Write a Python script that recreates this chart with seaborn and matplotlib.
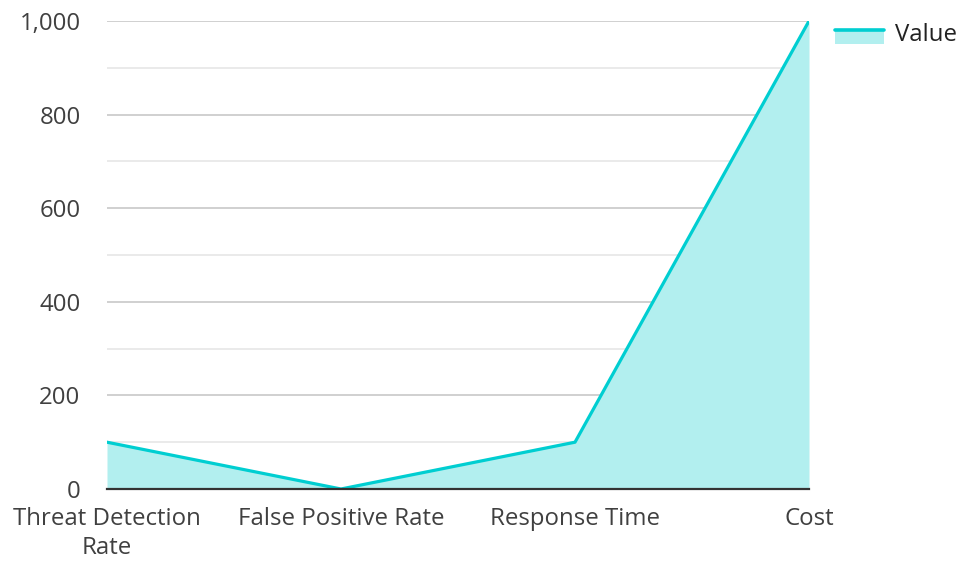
import matplotlib
matplotlib.use("Agg")
import matplotlib.pyplot as plt
import seaborn as sns
import pandas as pd
from matplotlib.lines import Line2D
from matplotlib.patches import Rectangle
from matplotlib.legend_handler import HandlerBase
from matplotlib.ticker import MultipleLocator, FuncFormatter

categories = ["Threat Detection Rate", "False Positive Rate", "Response Time", "Cost"]
tick_labels = ["Threat Detection\nRate", "False Positive Rate", "Response Time", "Cost"]
values = [100, 0, 100, 1000]
series_name = "Value"

LINE = "#00CED1"
FILL = "#B2EFEF"
TEXT = "#404040"
FS = 17.3

sns.set_theme(style="white")
plt.rcParams["font.family"] = ["Open Sans", "Noto Sans", "DejaVu Sans"]

df = pd.DataFrame({"Metric": categories, "Value": values})
df["pos"] = range(len(df))

fig = plt.figure(figsize=(9.58, 5.61), dpi=100)
ax = fig.add_axes([107 / 958, 1 - 489 / 561, (809 - 107) / 958, (489 - 21) / 561])

ax.fill_between(df["pos"], 0, df["Value"], color=FILL, linewidth=0, zorder=2)
sns.lineplot(data=df, x="pos", y="Value", ax=ax, color=LINE, linewidth=2.3, zorder=3,
             legend=False)

ax.set_xlim(0, len(categories) - 1)
ax.set_ylim(0, 1000)
ax.set_xticks(df["pos"])
ax.set_xticklabels(tick_labels, fontsize=FS, color=TEXT, linespacing=1.3)
ax.yaxis.set_major_locator(MultipleLocator(200))
ax.yaxis.set_minor_locator(MultipleLocator(100))
ax.yaxis.set_major_formatter(FuncFormatter(lambda v, p: f"{int(v):,}"))
ax.tick_params(axis="y", which="both", length=0, labelsize=FS, labelcolor=TEXT, pad=19)
ax.tick_params(axis="x", length=0, pad=13)
ax.grid(axis="y", which="major", color="#C8C8C8", linewidth=1.2, zorder=1)
ax.grid(axis="y", which="minor", color="#E6E6E6", linewidth=1.2, zorder=1)
ax.set_axisbelow(True)
for s in ["top", "right", "left"]:
    ax.spines[s].set_visible(False)
ax.spines["bottom"].set_color("#333333")
ax.spines["bottom"].set_linewidth(1.6)
ax.spines["bottom"].set_zorder(4)
ax.set_xlabel("")
ax.set_ylabel("")


class AreaHandler(HandlerBase):
    def create_artists(self, legend, orig_handle, xdescent, ydescent, width, height, fontsize, trans):
        top = height * 0.85
        rect = Rectangle((-xdescent, -ydescent - 2), width, top * 0.7 + 2, facecolor=FILL,
                         edgecolor="none", transform=trans)
        line = Line2D([-xdescent, -xdescent + width], [top * 0.7 - ydescent + 1] * 2,
                      color=LINE, linewidth=2.6, transform=trans)
        return [rect, line]


handle = Rectangle((0, 0), 1, 1)
leg = fig.legend([handle], [series_name], handler_map={Rectangle: AreaHandler()},
                 loc="upper left", bbox_to_anchor=(835 / 958, 1 - 23 / 561),
                 frameon=False, fontsize=FS, handlelength=2.05, handletextpad=0.45,
                 borderaxespad=0, borderpad=0)
for t in leg.get_texts():
    t.set_color("#222222")

fig.savefig("out.png", dpi=100)
